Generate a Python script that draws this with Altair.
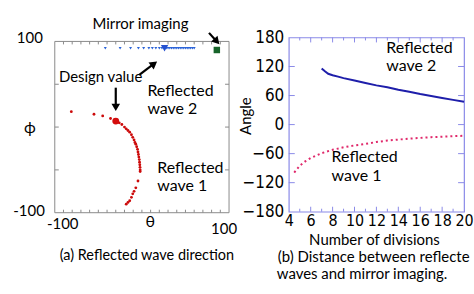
import math

import altair as alt
import pandas as pd

# ---------------- panel (a): reflected wave direction (degrees) ----------------
# reflected wave 2: row of triangles near the top
wave2_theta = [-42, -25, -13, -4, 2, 8, 12, 16, 20, 23, 28, 30, 32, 34, 36, 38,
               40, 42, 44, 46, 48, 50, 52, 54, 56, 58, 60]
wave2_phi = [92, 92, 92, 92, 92, 92, 92, 92, 92, 92, 92, 92, 92, 92, 92, 92,
             92, 92, 92, 92, 92, 92, 92, 92, 92, 92, 92]
# reflected wave 1: red arc
wave1_theta = [-81, -55, -45, -36, -26, -23, -20, -18, -16, -14, -12, -10.5, -9,
               -8, -7, -6, -5, -4.5, -4, -3.5, -3, -2.7, -2.4, -2.2, -2, -2,
               -4.5, -7, -9, -10.5, -12, -14, -16, -18]
wave1_phi = [18, 15, 13, 10, 5, 3, 0, -2, -4, -6, -9, -12, -15, -18, -20, -23,
             -26, -29, -32, -35, -38, -41, -44, -47, -50, -52, -63, -71, -75,
             -78, -82, -86, -88, -90]
# design values (wave 1, wave 2) and the mirror imaging direction
design1 = (-30, 7)
design2 = (26, 92)
mirror_theta = [86]
mirror_phi = [90]

# annotation arrows: tail -> head, in (theta, phi)
arrow_tail_theta = [77, -3, -30]
arrow_tail_phi = [110, 61, 46]
arrow_head_theta = [86, 14, -30]
arrow_head_phi = [100, 74, 23]

# frame ticks
a_edge_ticks = list(range(-90, 100, 10))
a_side_ticks = [-50, 0, 50]

# ---------------- panel (b): distance to the mirror imaging ----------------
div_wave2 = [7, 7.3, 7.6, 8, 8.5, 9, 10, 11, 12, 13, 14, 15, 16, 17, 18, 19, 20]
ang_wave2 = [116, 110, 105, 102, 99, 96, 91, 86, 81, 77, 72, 68, 63, 59, 55, 51, 47]
div_wave1 = [4.5, 5, 5.5, 6, 7, 8, 9, 10, 11, 12, 13, 14, 15, 16, 17, 18, 19, 20]
ang_wave1 = [-99, -85, -76, -69, -59, -52, -47, -43, -40, -36, -33, -31, -29,
             -27.5, -26, -25, -24, -23]
b_x_labels = [4, 6, 8, 10, 12, 14, 16, 18, 20]
b_y_labels = [-180, -120, -60, 0, 60, 120, 180]
b_side_ticks = [-120, -60, 0, 60, 120]
b_edge_major = [6, 8, 10, 12, 14, 16, 18]
b_edge_minor = [5, 7, 9, 11, 13, 15, 17, 19]

# ---------------- styling ----------------
TEXT_FONT = "Lato"
NUM_FONT = "DejaVu Sans Condensed"
W_A, H_A, TOP_A = 175, 176, 4      # panel (a) frame starts 4 px below the group top
W_B, H_B = 176, 175
GRAY = "#8a8a8a"
LAVENDER = "#8a8ae8"

xa = alt.Scale(domain=[-100, 100], nice=False, zero=False)
ya = alt.Scale(domain=[-100, 100], nice=False, zero=False, range=[H_A, TOP_A])
xb = alt.Scale(domain=[4, 20], nice=False, zero=False)
yb = alt.Scale(domain=[-180, 180], nice=False, zero=False)

one_row = pd.DataFrame({"k": [0]})


def label(s, x, y, size=15, align="left", angle=0, limit=0, font=TEXT_FONT):
    props = dict(text=s, align=align, baseline="middle", font=font,
                 fontSize=size, color="black")
    if angle:
        props["angle"] = angle
    if limit:
        props["limit"] = limit
        props["ellipsis"] = "\u200b"
    return alt.Chart(one_row).mark_text(**props).encode(
        x=alt.value(x), y=alt.value(y))


def tick_label(s, x_datum=None, y_datum=None, x=0, y=0, dx=0, dy=0,
               align="center"):
    enc = {}
    enc["x"] = alt.datum(x_datum, scale=xa, axis=None) if x_datum is not None else alt.value(x)
    enc["y"] = alt.datum(y_datum, scale=ya, axis=None) if y_datum is not None else alt.value(y)
    return alt.Chart(one_row).mark_text(
        text=s, align=align, baseline="middle", font=TEXT_FONT, fontSize=15,
        color="black", dx=dx, dy=dy).encode(**enc)


# ---------------- panel (a) layers ----------------
X_A = alt.X("theta:Q", scale=xa, axis=None)
Y_A = alt.Y("phi:Q", scale=ya, axis=None)

frame_a = alt.Chart(one_row).mark_rect(fillOpacity=0, stroke=GRAY, strokeWidth=1).encode(
    x=alt.datum(-100, scale=xa, axis=None), x2=alt.datum(100),
    y=alt.datum(-100, scale=ya, axis=None), y2=alt.datum(100))

edge_df = pd.DataFrame({"theta": a_edge_ticks})
side_df = pd.DataFrame({"phi": a_side_ticks})
ticks_a = [
    alt.Chart(edge_df).mark_rule(color=GRAY, strokeWidth=1).encode(
        x=X_A, y=alt.value(TOP_A), y2=alt.value(TOP_A + 3)),
    alt.Chart(edge_df).mark_rule(color=GRAY, strokeWidth=1).encode(
        x=X_A, y=alt.value(H_A), y2=alt.value(H_A - 3)),
    alt.Chart(side_df).mark_rule(color=GRAY, strokeWidth=1).encode(
        y=Y_A, x=alt.value(0), x2=alt.value(4)),
    alt.Chart(side_df).mark_rule(color=GRAY, strokeWidth=1).encode(
        y=Y_A, x=alt.value(W_A), x2=alt.value(W_A - 4)),
]

w1 = pd.DataFrame({"theta": wave1_theta, "phi": wave1_phi})
w2 = pd.DataFrame({"theta": wave2_theta, "phi": wave2_phi})
d1 = pd.DataFrame({"theta": [design1[0]], "phi": [design1[1]]})
d2 = pd.DataFrame({"theta": [design2[0]], "phi": [design2[1]]})
mi = pd.DataFrame({"theta": mirror_theta, "phi": mirror_phi})

points_a = [
    alt.Chart(w1).mark_circle(color="#cc0a0a", size=8, opacity=1).encode(x=X_A, y=Y_A),
    alt.Chart(w2).mark_point(shape="triangle-down", filled=True, color="#2c64d8",
                             size=9, opacity=1).encode(x=X_A, y=Y_A),
    alt.Chart(d1).mark_circle(color="#d40c0c", size=48, opacity=1).encode(x=X_A, y=Y_A),
    alt.Chart(d2).mark_point(shape="triangle-down", filled=True, color="#2450d0",
                             size=55, opacity=1).encode(x=X_A, y=Y_A),
    alt.Chart(mi).mark_square(color="#17642a", size=42, opacity=1).encode(x=X_A, y=Y_A),
]

# arrow heads point along tail -> head in screen space
px_x, px_y = W_A / 200.0, (H_A - TOP_A) / 200.0
arrow_df = pd.DataFrame({
    "theta": arrow_tail_theta, "phi": arrow_tail_phi,
    "theta2": arrow_head_theta, "phi2": arrow_head_phi,
})
arrow_df["angle"] = [
    math.degrees(math.atan2((t2 - t1) * px_x, (p2 - p1) * px_y)) % 360
    for t1, p1, t2, p2 in zip(arrow_tail_theta, arrow_tail_phi,
                              arrow_head_theta, arrow_head_phi)
]
arrows_a = [
    alt.Chart(arrow_df).mark_rule(color="black", strokeWidth=2.2).encode(
        x=X_A, y=Y_A, x2="theta2:Q", y2="phi2:Q"),
    alt.Chart(arrow_df).mark_point(shape="triangle-up", filled=True, color="black",
                                   size=75, opacity=1).encode(
        x=alt.X("theta2:Q", scale=xa, axis=None),
        y=alt.Y("phi2:Q", scale=ya, axis=None),
        angle=alt.Angle("angle:Q", scale=None)),
]

texts_a = [
    label("Mirror imaging", 86, -13, align="center"),
    label("Design value", 46, 40, align="center"),
    label("Reflected", 93, 54, size=16),
    label("wave 2", 93, 72, size=16),
    label("Reflected", 103, 131, size=16),
    label("wave 1", 103, 149, size=16),
    label("(a) Reflected wave direction", 5, 219, size=14.5),
    label("\u03d5", -25, 91, size=16, align="center"),
    label("\u03b8", 96, 185, size=16, align="center"),
    tick_label("100", y_datum=100, x=-12, dy=-3, align="right"),
    tick_label("-100", y_datum=-100, x=-10, dy=-2, align="right"),
    tick_label("-100", x_datum=-100, y=187, dx=8),
    tick_label("100", x_datum=100, y=192, dx=-5),
]

panel_a = alt.layer(frame_a, *ticks_a, *points_a, *arrows_a, *texts_a).properties(
    width=W_A, height=H_A, view=alt.ViewBackground(strokeOpacity=0))

# ---------------- panel (b) layers ----------------
x_axis_b = alt.Axis(values=b_x_labels, ticks=False, domain=False, grid=False,
                    labelPadding=1, labelFlush=False,
                    labelOverlap=False, labelFont=NUM_FONT, labelFontSize=16,
                    labelColor="black", title=None)
y_axis_b = alt.Axis(values=b_y_labels, ticks=False, domain=False, grid=False,
                    labelPadding=5, labelOverlap=False, labelFont=NUM_FONT,
                    labelFontSize=17, labelColor="black", title=None)
X_B = alt.X("n:Q", scale=xb, axis=x_axis_b)
Y_B = alt.Y("angle:Q", scale=yb, axis=y_axis_b)

l2 = pd.DataFrame({"n": div_wave2, "angle": ang_wave2})
l1 = pd.DataFrame({"n": div_wave1, "angle": ang_wave1})
maj_df = pd.DataFrame({"n": b_edge_major})
min_df = pd.DataFrame({"n": b_edge_minor})
bside_df = pd.DataFrame({"angle": b_side_ticks})

layers_b = [
    alt.Chart(l2).mark_line(color="#1e1eaa", strokeWidth=2).encode(x=X_B, y=Y_B),
    alt.Chart(l1).mark_line(color="#e0286a", strokeWidth=2,
                            strokeDash=[2, 3]).encode(x=X_B, y=Y_B),
    alt.Chart(maj_df).mark_rule(color=LAVENDER).encode(
        x=X_B, y=alt.value(0), y2=alt.value(5)),
    alt.Chart(maj_df).mark_rule(color=LAVENDER).encode(
        x=X_B, y=alt.value(H_B), y2=alt.value(H_B - 5)),
    alt.Chart(min_df).mark_rule(color=LAVENDER).encode(
        x=X_B, y=alt.value(0), y2=alt.value(3)),
    alt.Chart(min_df).mark_rule(color=LAVENDER).encode(
        x=X_B, y=alt.value(H_B), y2=alt.value(H_B - 3)),
    alt.Chart(bside_df).mark_rule(color=LAVENDER).encode(
        y=Y_B, x=alt.value(0), x2=alt.value(6)),
    alt.Chart(bside_df).mark_rule(color=LAVENDER).encode(
        y=Y_B, x=alt.value(W_B), x2=alt.value(W_B - 6)),
    label("Reflected", 98, 11, size=16),
    label("wave 2", 98, 29, size=16),
    label("Reflected", 43, 120, size=16),
    label("wave 1", 43, 139, size=16),
    label("Angle", -43, 79, size=15, align="center", angle=270),
    label("Number of divisions", 86, 203, size=15, align="center"),
    label("(b) Distance between reflected waves", -11, 220, size=15, limit=200),
    label("waves and mirror imaging.", -12, 238, size=15),
]

panel_b = alt.layer(*layers_b).properties(
    width=W_B, height=H_B, view=alt.ViewBackground(stroke=LAVENDER, strokeWidth=1.2))

chart = alt.hconcat(panel_a, panel_b, spacing=60, bounds="flush").properties(
    padding={"left": 13, "top": 17, "right": 0, "bottom": 4},
    background="white",
)

chart.save("out.html", embed_options={"renderer": "svg", "actions": False})
